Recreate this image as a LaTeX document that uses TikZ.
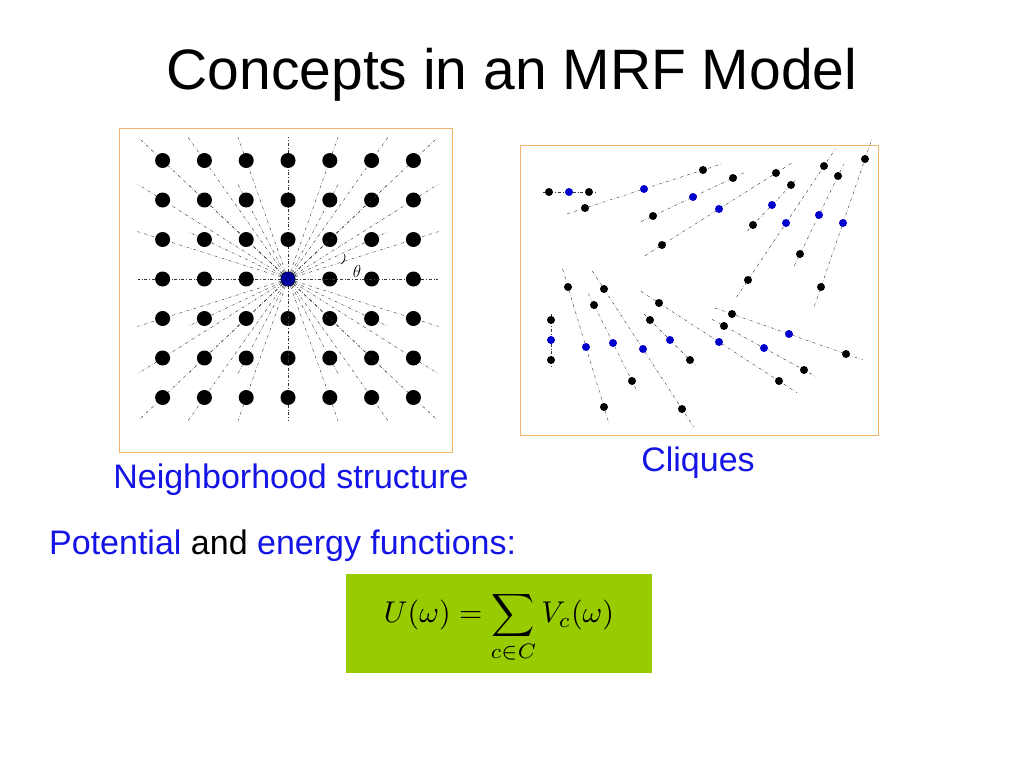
\documentclass[tikz,border=0pt]{standalone}
\usepackage{fontspec}
\setmainfont{Liberation Sans}
\usetikzlibrary{positioning,calc}
\definecolor{frameorange}{RGB}{245,180,110}
\definecolor{boxgreen}{RGB}{153,204,0}
\definecolor{labelblue}{RGB}{20,20,230}

\begin{document}
\begin{tikzpicture}[x=1pt, y=-1pt,
        site/.style={circle, fill=black, inner sep=0pt, minimum size=15pt},
        dot/.style={circle, fill=black, inner sep=0pt, minimum size=8pt},
        bdot/.style={circle, fill=blue!80!black, inner sep=0pt, minimum size=8pt},
        ray/.style={gray!40!black, dash dot, thin},
        caption/.style={text=labelblue, font=\fontsize{34}{38}\selectfont}
      ]
        \useasboundingbox (0,0) rectangle (1024,768);
        \node (title) at (512,75) {\fontsize{57}{62}\selectfont Concepts in an MRF Model};

        % neighborhood grid
        \draw[frameorange] (119,128) rectangle (452,452);
        \coordinate (ctr) at (288,279);
        \begin{scope}
          \clip (124,133) rectangle (447,447);
          \foreach \i in {-3,...,3} {
            \foreach \j in {-3,...,3} {
              \pgfmathsetmacro{\px}{288+41.8*\i}
              \pgfmathsetmacro{\py}{279+39.5*\j}
              \ifnum\i=0 \ifnum\j=0 \else
                \draw[ray] (ctr) -- ($(ctr)!1.2!(\px,\py)$);
              \fi \else
                \draw[ray] (ctr) -- ($(ctr)!1.2!(\px,\py)$);
              \fi
              \node[site] at (\px,\py) {};
            }
          }
        \end{scope}
        \node[site, fill=blue!60!black, minimum size=14pt] (center) at (ctr) {};
        \draw[thick] (341,264) arc[start angle=60, end angle=-20, radius=8];
        \node (theta) at (357,271) {\fontsize{18}{20}\selectfont$\theta$};

        % cliques
        \draw[frameorange] (520,145) rectangle (878,435);
        \foreach \a/\b/\c/\m in {549/192/569/192, 585/208/644/189, 653/216/693/197, 662/245/719/209,
                                 753/225/772/205, 748/280/786/223, 800/254/819/215, 821/287/843/223,
                                 551/320/551/340, 568/287/586/347, 594/305/613/343, 604/289/643/349,
                                 650/320/670/340, 659/303/719/342, 724/326/764/348, 732/314/789/334} {
          \draw[ray] ($(\a,\b)!-0.3!(\c,\m)$) -- ($(\a,\b)!2.3!(\c,\m)$);
          \node[dot] at (\a,\b) {};
          \node[bdot] at (\c,\m) {};
          \node[dot] at ($(\a,\b)!2!(\c,\m)$) {};
        }

        \node[caption] (nbh) at (291,480) {Neighborhood structure};
        \node[caption] (clq) at (698,463) {Cliques};
        \node[anchor=west, inner sep=0pt, font=\fontsize{34}{38}\selectfont] (pot) at (49,546)
          {\textcolor{labelblue}{Potential} and \textcolor{labelblue}{energy functions:}};

        \fill[boxgreen] (346,574) rectangle (652,673);
        \node[scale=3.0, inner sep=0pt] (eq) at (499,627) {$\displaystyle U(\omega)=\sum_{c\in C}V_c(\omega)$};
      \end{tikzpicture}
\end{document}
